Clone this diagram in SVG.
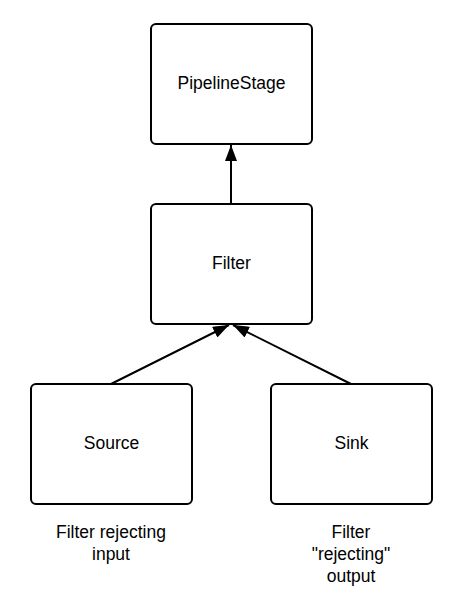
<svg xmlns="http://www.w3.org/2000/svg" width="458" height="606" viewBox="0 0 458 606">
<style>
.box{fill:#fff;stroke:#000;stroke-width:2}
.t{font-family:"Liberation Sans",Arial,sans-serif;font-size:17.5px;fill:#000;text-anchor:middle}
.c{stroke:#000;stroke-width:2;fill:none}
</style>
<defs>
<marker id="ah" viewBox="0 0 16 12" refX="16" refY="6" markerWidth="16" markerHeight="12" markerUnits="userSpaceOnUse" orient="auto">
<path d="M0,0 L16,6 L0,12 Z" fill="#000"/>
</marker>
</defs>
<rect width="458" height="606" fill="#fff"/>
<g id="connectors">
<line class="c" x1="231" y1="203" x2="231" y2="145" marker-end="url(#ah)"/>
<line class="c" x1="111" y1="384" x2="229" y2="325" marker-end="url(#ah)"/>
<line class="c" x1="351" y1="384" x2="233" y2="325" marker-end="url(#ah)"/>
</g>
<g id="pipelinestage">
<rect class="box" x="151" y="24" width="161" height="120" rx="5"/>
<text class="t" x="231.5" y="89">PipelineStage</text>
</g>
<g id="filter">
<rect class="box" x="151" y="204" width="161" height="120" rx="5"/>
<text class="t" x="231.5" y="269">Filter</text>
</g>
<g id="source">
<rect class="box" x="31" y="384" width="161" height="120" rx="5"/>
<text class="t" x="111.5" y="449">Source</text>
<text class="t" x="111" y="538">Filter rejecting</text>
<text class="t" x="111" y="560">input</text>
</g>
<g id="sink">
<rect class="box" x="271" y="384" width="161" height="120" rx="5"/>
<text class="t" x="351.5" y="449">Sink</text>
<text class="t" x="351" y="538">Filter</text>
<text class="t" x="351" y="560">"rejecting"</text>
<text class="t" x="351" y="582">output</text>
</g>
</svg>
